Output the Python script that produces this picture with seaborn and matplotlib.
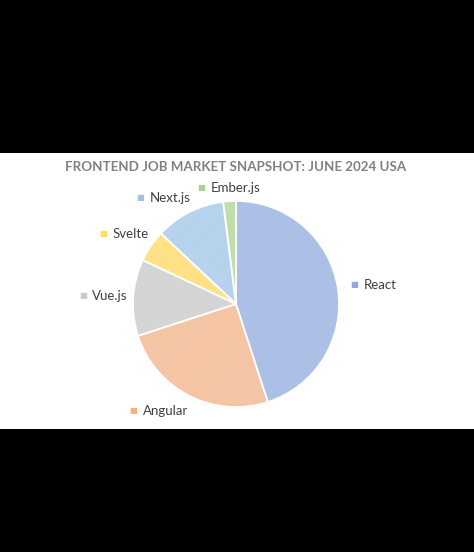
import matplotlib
matplotlib.use("Agg")
import numpy as np
import matplotlib.pyplot as plt
import seaborn as sns
from matplotlib.patches import Rectangle
from matplotlib.offsetbox import TextArea, HPacker, AnnotationBbox

# ---- data ----
frameworks = ["React", "Angular", "Vue.js", "Svelte", "Next.js", "Ember.js"]
shares = [45, 25, 12, 5, 11, 2]
title = "FRONTEND JOB MARKET SNAPSHOT: JUNE 2024 USA"

# ---- styles ----
fill_colors = ["#B6C8EA", "#F7CEB2", "#DDDDDD", "#FFE69B", "#C3DAF0", "#CAE3BB"]
hatch_colors = ["#A2B8E3", "#F3BC97", "#CDCDCD", "#FFDC72", "#ACCCEB", "#B6D9A0"]
marker_colors = ["#8FA9DC", "#F4B183", "#C9C9C9", "#FFD966", "#9DC3E6", "#A9D18E"]
label_dist = [1.35, 1.28, 1.29, 1.28, 1.25, 1.13]
label_shift = [1.0, 9.0, 0.0, -2.0, -7.5, 0.0]   # degrees, clockwise

sns.set_theme(style="white")
plt.rcParams['font.family'] = ['Lato', 'DejaVu Sans']
plt.rcParams['hatch.linewidth'] = 0.6

W, H = 474, 552
fig = plt.figure(figsize=(W / 100, H / 100), dpi=100, facecolor="black")
fig.add_artist(Rectangle((0, (H - 429) / H), 1, (429 - 153) / H,
                         transform=fig.transFigure, facecolor="white",
                         edgecolor="none", zorder=0))

ax = fig.add_axes([0, 0, 1, 1])
ax.set_facecolor("none")
cx, cy, r = 236, H - 304, 103

wedges, _ = ax.pie(shares, startangle=90, counterclock=False, center=(cx, cy),
                   radius=r, colors=fill_colors,
                   wedgeprops=dict(linewidth=0))
for w, hc in zip(wedges, hatch_colors):
    w.set_hatch("/" * 14)
    w.set_edgecolor(hc)
    w.set_linewidth(0)
# white separators on top
ax.pie(shares, startangle=90, counterclock=False, center=(cx, cy), radius=r,
       colors=["none"] * len(shares),
       wedgeprops=dict(linewidth=1.2, edgecolor="white", facecolor="none"))

ax.set_xlim(0, W)
ax.set_ylim(0, H)
ax.set_aspect("equal")
ax.axis("off")

for w, name, mc, d, s in zip(wedges, frameworks, marker_colors, label_dist, label_shift):
    mid = np.deg2rad((w.theta1 + w.theta2) / 2 - s)
    x = cx + d * r * np.cos(mid)
    y = cy + d * r * np.sin(mid)
    box = HPacker(children=[
        TextArea("■", textprops=dict(color=mc, fontsize=6,
                                     family=['DejaVu Sans'])),
        TextArea(name, textprops=dict(color="#404040", fontsize=9.5)),
    ], sep=4, align="center", pad=0)
    ab = AnnotationBbox(box, (x, y), xycoords="data", frameon=False,
                        box_alignment=(0.5, 0.5), pad=0)
    ax.add_artist(ab)

fig.text(235.5 / W, 1 - 167 / H, title, ha="center", va="center",
         fontsize=9.6, fontweight="bold", color="#808080")

fig.savefig("out.png", dpi=100, facecolor="black")
